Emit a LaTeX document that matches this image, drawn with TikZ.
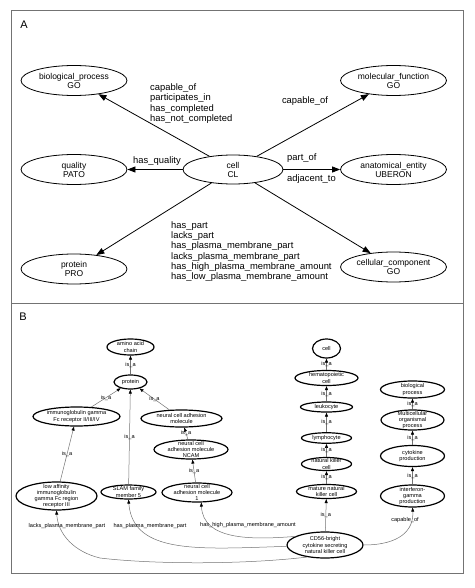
\documentclass[tikz,border=0pt]{standalone}
\usepackage{fontspec}
\setmainfont{Liberation Sans}
\usetikzlibrary{shapes.geometric,arrows.meta}

\tikzset{
        panel/.style={draw=black!55,line width=1pt},
        panelname/.style={inner sep=0pt,font=\fontsize{11}{12}\selectfont},
        termA/.style={draw,ellipse,line width=0.8pt,inner sep=0pt,minimum width=106pt,minimum height=30pt,align=center,font=\fontsize{8.5}{9}\selectfont},
        relA/.style={-{Triangle[length=8pt,width=6pt]},line width=0.8pt},
        labA/.style={inner sep=0pt,align=left,font=\fontsize{9.4}{10.3}\selectfont},
        termB/.style={draw,ellipse,line width=1.2pt,inner xsep=0pt,inner ysep=-2.5pt,align=center,font=\fontsize{5.6}{6.3}\selectfont},
        relB/.style={-{Triangle[length=4pt,width=3pt,color=black]},draw=black!55,line width=0.5pt},
        isa/.style={inner sep=0pt,font=\fontsize{5.6}{6}\selectfont}
}

\begin{document}
\begin{tikzpicture}[x=1pt,y=-1pt]
        \useasboundingbox (0,0) rectangle (474,588);
        \draw[panel] (11,11) rectangle (463,303);
        \draw[panel] (11,303) rectangle (463,573);

        % A
        \node[panelname] (nameA) at (24,25) {A};
        \node[termA] (bio) at (74,80.5) {biological\_process\\GO};
        \node[termA] (molfun) at (393.5,80.5) {molecular\_function\\GO};
        \node[termA] (quality) at (74,169.5) {quality\\PATO};
        \node[termA,minimum width=100pt,minimum height=29pt] (cellA) at (233,169.5) {cell\\CL};
        \node[termA] (anat) at (393.5,169.5) {anatomical\_entity\\UBERON};
        \node[termA] (proteinA) at (74,269) {protein\\PRO};
        \node[termA] (cellcomp) at (393.5,267) {cellular\_component\\GO};

        \draw[relA] (cellA) -- (bio);
        \draw[relA] (cellA) -- (molfun);
        \draw[relA] (cellA) -- (quality);
        \draw[relA] (cellA) -- (anat);
        \draw[relA] (cellA) -- (proteinA);
        \draw[relA] (cellA) -- (cellcomp);

        \node[labA,anchor=west] (relbio) at (150,103.5) {capable\_of\\participates\_in\\has\_completed\\has\_not\_completed};
        \node[labA] (relmol) at (305,101) {capable\_of};
        \node[labA] (relqual) at (157,161) {has\_quality};
        \node[labA,anchor=west] (relpart) at (287,158) {part\_of};
        \node[labA,anchor=west] (reladj) at (287,179) {adjacent\_to};
        \node[labA,anchor=west] (relprot) at (171,251.5) {has\_part\\lacks\_part\\has\_plasma\_membrane\_part\\lacks\_plasma\_membrane\_part\\has\_high\_plasma\_membrane\_amount\\has\_low\_plasma\_membrane\_amount};

        % B
        \node[panelname] (nameB) at (23,317) {B};
        \node[termB,minimum width=47pt,minimum height=16pt] (aac) at (130.5,347) {amino acid\\chain};
        \node[termB,minimum width=33pt,minimum height=14pt] (protein) at (130.5,382) {protein};
        \node[termB,minimum width=87pt,minimum height=19pt] (igfc) at (76.5,416.5) {immunoglobulin gamma\\Fc receptor II/III/IV};
        \node[termB,minimum width=81pt,minimum height=17pt] (ncam) at (181.5,418.5) {neural cell adhesion\\molecule};
        \node[termB,minimum width=74pt,minimum height=19pt] (ncamN) at (191,449.5) {neural cell\\adhesion molecule\\NCAM};
        \node[termB,minimum width=81pt,minimum height=28pt] (lowaff) at (56.5,496) {low affinity\\immunoglobulin\\gamma Fc region\\receptor III};
        \node[termB,minimum width=55pt,minimum height=14pt] (slam) at (128.5,492) {SLAM family\\member 5};
        \node[termB,minimum width=70pt,minimum height=19pt] (ncam1) at (197,492.5) {neural cell\\adhesion molecule\\1};

        \node[termB,minimum width=28pt,minimum height=19pt] (cellB) at (326.5,348.5) {cell};
        \node[termB,minimum width=63pt,minimum height=15pt] (hema) at (326.5,378) {hematopoietic\\cell};
        \node[termB,minimum width=52pt,minimum height=10pt] (leuko) at (326.5,407) {leukocyte};
        \node[termB,minimum width=50pt,minimum height=10.5pt] (lympho) at (326.5,438) {lymphocyte};
        \node[termB,minimum width=50pt,minimum height=13pt] (nk) at (326.5,464) {natural killer\\cell};
        \node[termB,minimum width=60pt,minimum height=14pt] (mnk) at (326.5,491.5) {mature natural\\killer cell};
        \node[termB,minimum width=76pt,minimum height=26pt] (cd56) at (325,545) {CD56-bright\\cytokine secreting\\natural killer cell};

        \node[termB,minimum width=64pt,minimum height=17pt] (bp) at (412.5,389.5) {biological\\process};
        \node[termB,minimum width=63pt,minimum height=20pt] (mop) at (412.5,420) {Multicellular\\organismal\\process};
        \node[termB,minimum width=64pt,minimum height=21pt] (cyto) at (412.5,456) {cytokine\\production};
        \node[termB,minimum width=64pt,minimum height=22pt] (ifng) at (412.5,496) {interferon-\\gamma\\production};

        \draw[relB] (protein) -- node[isa] {is\_a} (aac);
        \draw[relB] (igfc) -- node[isa] {is\_a} (protein);
        \draw[relB] (ncam) -- node[isa] {is\_a} (protein);
        \draw[relB] (slam) -- node[isa] {is\_a} (protein);
        \draw[relB] (ncamN) -- node[isa] {is\_a} (ncam);
        \draw[relB] (ncam1) -- node[isa] {is\_a} (ncamN);
        \draw[relB] (lowaff) -- node[isa] {is\_a} (igfc);
        \draw[relB] (hema) -- node[isa] {is\_a} (cellB);
        \draw[relB] (leuko) -- node[isa] {is\_a} (hema);
        \draw[relB] (lympho) -- node[isa] {is\_a} (leuko);
        \draw[relB] (nk) -- node[isa] {is\_a} (lympho);
        \draw[relB] (mnk) -- node[isa] {is\_a} (nk);
        \draw[relB] (cd56) -- node[isa] {is\_a} (mnk);
        \draw[relB] (mop) -- node[isa] {is\_a} (bp);
        \draw[relB] (cyto) -- node[isa] {is\_a} (mop);
        \draw[relB] (ifng) -- node[isa] {is\_a} (cyto);

        \draw[relB] (cd56.214) .. controls (240,565) and (150,564) .. (100,558) .. controls (75,552) and (58,535) .. (lowaff.south);
        \draw[relB] (cd56.182) .. controls (200,549) and (133,555) .. (slam.south);
        \draw[relB] (cd56.164) .. controls (250,540) and (203,540) .. (ncam1.293);
        \draw[relB] (cd56.east) .. controls (400,545) and (414,530) .. (ifng.south);

        \node[isa] (lackspm) at (67,526) {lacks\_plasma\_membrane\_part};
        \node[isa] (haspm) at (150,526) {has\_plasma\_membrane\_part};
        \node[isa] (hashigh) at (248,525.5) {has\_high\_plasma\_membrane\_amount};
        \node[isa] (capof) at (405,520) {capable\_of};
\end{tikzpicture}
\end{document}
